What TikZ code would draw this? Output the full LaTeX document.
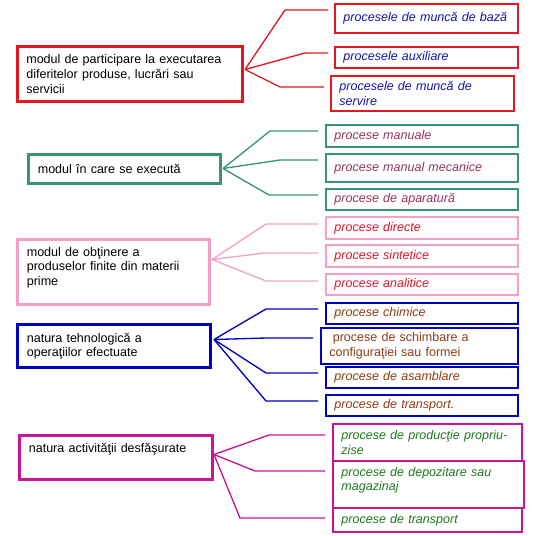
\documentclass[tikz,border=0pt]{standalone}
\usepackage{fontspec}
\setmainfont{Liberation Sans}
\usepackage{xcolor}
\usetikzlibrary{calc}
\definecolor{lineRed}{RGB}{228,22,30}
\definecolor{lineGreen}{RGB}{56,150,110}
\definecolor{linePink}{RGB}{245,160,200}
\definecolor{lineBlue}{RGB}{0,0,195}
\definecolor{lineMagenta}{RGB}{200,20,150}
\definecolor{textBlue}{RGB}{20,20,170}
\definecolor{textPlum}{RGB}{150,50,100}
\definecolor{textRed}{RGB}{225,20,40}
\definecolor{textBrown}{RGB}{140,60,20}
\definecolor{textGreen}{RGB}{30,120,30}

\begin{document}
\begin{tikzpicture}[x=0.75pt, y=-0.75pt,
		mainbox/.style={draw, line width=2.25pt, anchor=north west, align=left, inner xsep=7pt, font=\fontsize{9.4}{10.9}\selectfont},
		subbox/.style={draw, line width=1.2pt, anchor=north west, align=left, inner xsep=6.5pt, inner ysep=2pt, font=\fontsize{9.4}{10.9}\selectfont\itshape},
		link/.style={line width=1pt}]
			\useasboundingbox (0,0) rectangle (542,535);

			% Criteria on the left
			\node[mainbox, lineRed, text=black, text width=154.75pt, minimum height=40.5pt] (m1) at (15.5,45.5) {modul de participare la executarea\\diferitelor produse, lucrări sau\\servicii};
			\node[mainbox, lineGreen, text=black, text width=130pt, minimum height=21.75pt] (m2) at (27,153) {modul în care se execută};
			\node[mainbox, linePink, text=black, text width=130pt, inner ysep=0pt, text height=12.4pt, text depth=36.4pt] (m3) at (16,238) {modul de obţinere a\\produselor finite din materii\\prime};
			\node[mainbox, lineBlue, text=black, text width=130.75pt, minimum height=32.25pt] (m4) at (16,323) {natura tehnologică a\\operaţiilor efectuate};
			\node[mainbox, lineMagenta, text=black, text width=130.75pt, inner ysep=0pt, text height=13.1pt, text depth=19.9pt] (m5) at (18,434) {natura activităţii desfăşurate};

			% Processes of the first criterion
			\node[subbox, lineRed, text=textBlue, text width=124.25pt, minimum height=21.75pt] (c11) at (334,3) {procesele de muncă de bază};
			\node[subbox, lineRed, text=textBlue, text width=124.25pt, minimum height=15.75pt] (c12) at (334,46) {procesele auxiliare};
			\node[subbox, lineRed, text=textBlue, text width=124.25pt, minimum height=26.25pt] (c13) at (330,75) {procesele de muncă de\\servire};

			% Processes of the second criterion
			\node[subbox, lineGreen, text=textPlum, text width=131pt, minimum height=16.5pt] (c21) at (325,124) {procese manuale};
			\node[subbox, lineGreen, text=textPlum, text width=131pt, minimum height=21pt] (c22) at (325,153) {procese manual mecanice};
			\node[subbox, lineGreen, text=textPlum, text width=131pt, minimum height=15.75pt] (c23) at (325,188) {procese de aparatură};

			% Processes of the third criterion
			\node[subbox, linePink, text=textRed, text width=131pt, minimum height=16.5pt] (c31) at (325,216) {procese directe};
			\node[subbox, linePink, text=textRed, text width=131pt, minimum height=16.5pt] (c32) at (325,244) {procese sintetice};
			\node[subbox, linePink, text=textRed, text width=131pt, minimum height=15.75pt] (c33) at (325,273) {procese analitice};

			% Processes of the fourth criterion
			\node[subbox, lineBlue, text=textBrown, text width=131pt, minimum height=15.75pt] (c41) at (325,302) {procese chimice};
			\node[subbox, lineBlue, text=textBrown, text width=134.75pt, minimum height=27pt, font=\fontsize{9.4}{10.9}\selectfont] (c42) at (320,327) {\hspace{2.5pt}procese de schimbare a\\configuraţiei sau formei};
			\node[subbox, lineBlue, text=textBrown, text width=131pt, minimum height=15.75pt] (c43) at (325,366) {procese de asamblare};
			\node[subbox, lineBlue, text=textBrown, text width=131pt, minimum height=15.75pt] (c44) at (325,394) {procese de transport.};

			% Processes of the fifth criterion
			\node[subbox, lineMagenta, text=textGreen, text width=128.75pt, minimum height=27.75pt] (c51) at (332,423) {procese de producţie propriu-\\zise};
			\node[subbox, lineMagenta, text=textGreen, text width=130.25pt, inner ysep=0pt, text height=11.6pt, text depth=23.6pt] (c52) at (332,460) {procese de depozitare sau\\magazinaj};
			\node[subbox, lineMagenta, text=textGreen, text width=128.75pt, minimum height=18pt] (c53) at (332,507) {procese de transport};

			% Branch points
			\coordinate (b1) at ($(m1.east)+(1.5,-4.5)$);
			\coordinate (b2) at ($(m2.east)+(1,-0.5)$);
			\coordinate (b3) at ($(m3.east)+(1,-12.5)$);
			\coordinate (b4) at ($(m4.east)+(2,-6.5)$);
			\coordinate (b5) at ($(m5.east)+(0,-3)$);

			% Draw links
			\foreach \c/\ex/\ey in {c11/285/10, c12/305/53, c13/280/87}
			\draw[link, lineRed] (b1) -- (\ex,\ey) -- ($(\c.west |- 0,\ey)+(-6,0)$);
			\foreach \c/\ex/\ey in {c21/270/131, c22/280/160, c23/269/195}
			\draw[link, lineGreen] (b2) -- (\ex,\ey) -- ($(\c.west |- 0,\ey)+(-7,0)$);
			\foreach \c/\ex/\ey in {c31/266/224, c32/264/253, c33/266/281}
			\draw[link, linePink] (b3) -- (\ex,\ey) -- ($(\c.west |- 0,\ey)+(-7,0)$);
			\foreach \c/\ex/\ey in {c41/266/309, c42/266/338, c43/266/373, c44/266/401}
			\draw[link, lineBlue] (b4) -- (\ex,\ey) -- ($(\c.west |- 325,\ey)+(-7,0)$);
			\foreach \c/\ex/\ey in {c51/269/435, c52/255/471, c53/240/518}
			\draw[link, lineMagenta] (b5) -- (\ex,\ey) -- ($(\c.west |- 0,\ey)+(-7,0)$);
		\end{tikzpicture}
\end{document}
